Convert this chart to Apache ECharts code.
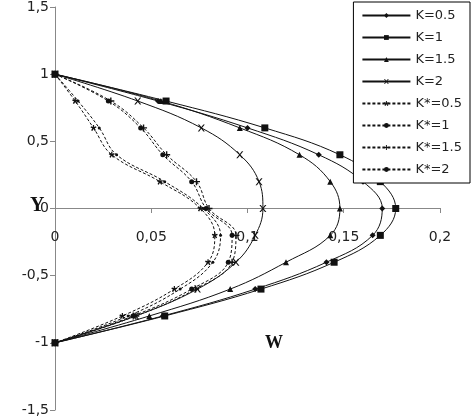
<!DOCTYPE html><html><head><meta charset="utf-8"><script src="https://cdn.jsdelivr.net/npm/echarts@6/dist/echarts.min.js"></script></head><body style="margin:0"><div id="c" style="width:474px;height:420px"></div><script>
const yVals=[1,0.8,0.6,0.4,0.2,0,-0.2,-0.4,-0.6,-0.8,-1];
const names=['K=0.5','K=1','K=1.5','K=2','K*=0.5','K*=1','K*=1.5','K*=2'];
const wK05=[0,0.0535,0.100,0.137,0.160,0.170,0.165,0.141,0.104,0.056,0];
const wK1=[0,0.0577,0.109,0.148,0.169,0.177,0.169,0.145,0.107,0.057,0];
const wK15=[0,0.055,0.096,0.127,0.143,0.148,0.143,0.120,0.091,0.049,0];
const wK2=[0,0.043,0.076,0.096,0.106,0.108,0.104,0.094,0.074,0.042,0];
const wS05=[0,0.0105,0.020,0.0295,0.0545,0.0755,0.083,0.0795,0.062,0.035,0];
const wS1=[0,0.0277,0.0445,0.056,0.071,0.0785,0.092,0.090,0.071,0.0405,0];
const wS15=[0,0.029,0.046,0.058,0.0735,0.080,0.094,0.092,0.073,0.042,0];
const wS2=[0,0.012,0.023,0.032,0.057,0.077,0.086,0.082,0.065,0.038,0];
const xTicks=[0,0.05,0.1,0.15,0.2];
const yTicks=[-1.5,-1,-0.5,0,0.5,1,1.5];
const all=[wK05,wK1,wK15,wK2,wS05,wS1,wS15,wS2];
const syms=['diamond','rect','triangle','path://M0,0L2,0L5,3L8,0L10,0L6,4L10,8L8,8L5,5L2,8L0,8L4,4Z','path://M4,0L6,0L6,3L9,2L10,4L7,5L9,8L7,9L5,6L3,9L1,8L3,5L0,4L1,2L4,3Z','circle','path://M4,0L6,0L6,4L10,4L10,6L6,6L6,10L4,10L4,6L0,6L0,4L4,4Z','circle'];
const sizes=[6,7,6,7,6,5,7,3];
const fmt=v=>String(v).replace('.',',');
const series=all.map((d,i)=>({name:names[i],type:'line',smooth:0.4,data:d.map((w,j)=>[w,yVals[j]]),symbol:syms[i],symbolSize:sizes[i],
 lineStyle:{color:'#111',width:1,type:i<4?'solid':[3,2]},itemStyle:{color:'#111'}}));
const ch=echarts.init(document.getElementById('c'));
ch.setOption({animation:false,
grid:[{left:55,right:34,top:5,bottom:10},{left:55,right:34,top:208,height:1}],
xAxis:[{type:'value',gridIndex:0,min:0,max:0.2,interval:0.05,show:false},
 {type:'value',gridIndex:1,min:0,max:0.2,interval:0.05,position:'top',axisLine:{onZero:false,lineStyle:{color:'#888'}},axisTick:{show:true,inside:true,length:5,lineStyle:{color:'#888'}},
 splitLine:{show:false},axisLabel:{formatter:fmt,margin:-22,fontSize:14,color:'#222',fontFamily:'DejaVu Sans',verticalAlign:'top'}}],
yAxis:[{type:'value',gridIndex:0,min:-1.5,max:1.5,interval:0.5,axisLine:{onZero:false,lineStyle:{color:'#888'}},axisTick:{show:true,length:5,lineStyle:{color:'#888'}},splitLine:{show:false},
 axisLabel:{formatter:fmt,fontSize:14,color:'#222',fontFamily:'DejaVu Sans',margin:6}},
 {type:'value',gridIndex:1,min:0,max:1,show:false}],
legend:{orient:'vertical',right:4,top:2,data:names,backgroundColor:'#fff',borderColor:'#000',borderWidth:1,padding:[7,8,7,8],itemGap:9,itemWidth:48,itemHeight:6,
 textStyle:{fontSize:13,color:'#222',fontFamily:'DejaVu Sans'}},
graphic:[{type:'text',left:30,top:196,style:{text:'Y',font:'bold 20px "Liberation Serif"',fill:'#111'}},
{type:'text',left:265,top:334,style:{text:'W',font:'bold 18px "Liberation Serif"',fill:'#111'}}],
series});
</script></body></html>
